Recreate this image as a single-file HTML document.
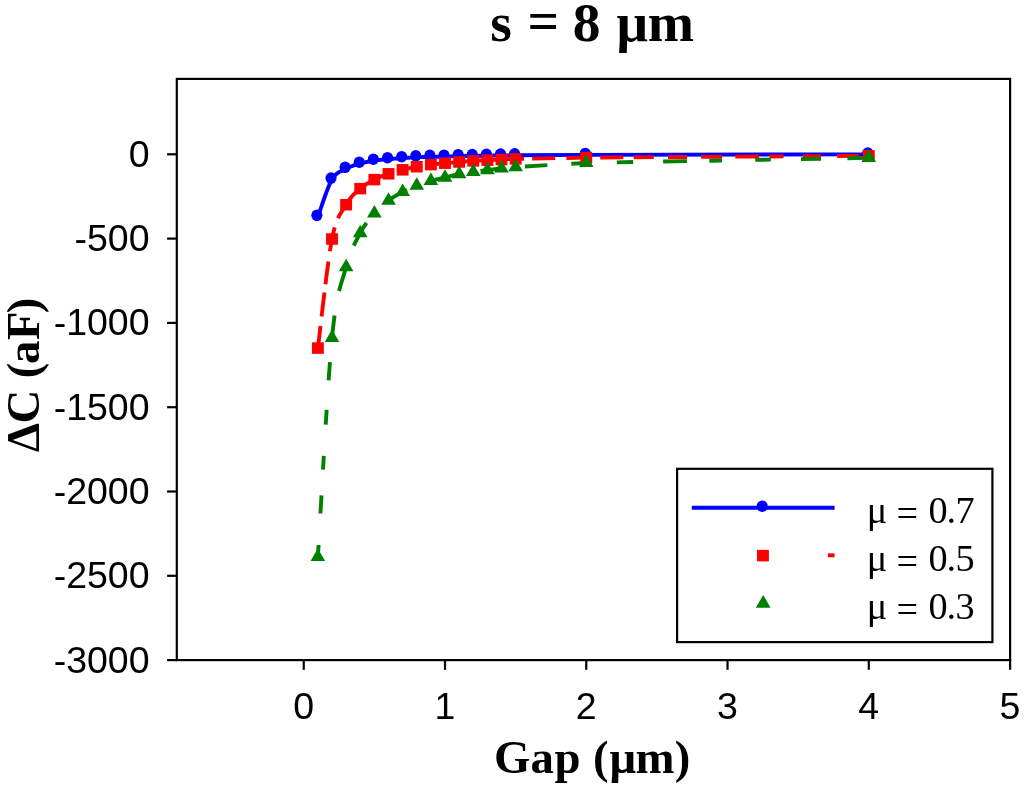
<!DOCTYPE html>
<html lang="en">
<head>
<meta charset="utf-8">
<title>s = 8 &#956;m</title>
<style>
html,body{margin:0;padding:0;background:#fff;}
body{width:1024px;height:789px;overflow:hidden;}
svg{display:block;}
.tk{font-family:"Liberation Sans",Arial,sans-serif;font-size:37.5px;fill:#000;}
.ax{font-family:"Liberation Serif","Times New Roman",serif;font-weight:bold;font-size:45.8px;fill:#000;}
.tt{font-family:"Liberation Serif","Times New Roman",serif;font-weight:bold;font-size:54.2px;fill:#000;}
.lg{font-family:"Liberation Serif","Times New Roman",serif;font-size:36px;fill:#000;}
</style>
</head>
<body>
<svg width="1024" height="789" viewBox="0 0 1024 789">
<rect width="1024" height="789" fill="#ffffff"/>
<text class="tt" style="font-size:55.5px" y="40.7" dy="0.00 0.00 -1.40 1.40 0.00 0.00 0.00 0.00" x="490.14 508.83 527.52 550.17 572.83 594.69 616.55 647.82">s = 8 &#956;m</text>
<text class="ax" style="font-size:46.8px" y="773.2" x="494.04 530.54 554.46 573.72 592.99 609.52 635.49 674.70">Gap (&#956;m)</text>
<text class="ax" style="font-size:46.8px" transform="translate(38.9 0) rotate(-90)" y="0" x="-452.17 -423.55 -400.88 -378.21 -364.11 -340.07 -313.20">&#916;C (aF)</text>
<g fill="none" stroke="#000" stroke-width="2.2" stroke-linecap="butt">
<rect x="176.80" y="78.90" width="833.30" height="581.20"/>
<line x1="303.75" y1="660.10" x2="303.75" y2="669.80"/>
<line x1="445.01" y1="660.10" x2="445.01" y2="669.80"/>
<line x1="586.27" y1="660.10" x2="586.27" y2="669.80"/>
<line x1="727.53" y1="660.10" x2="727.53" y2="669.80"/>
<line x1="868.79" y1="660.10" x2="868.79" y2="669.80"/>
<line x1="1010.10" y1="660.10" x2="1010.10" y2="669.80"/>
<line x1="176.80" y1="154.30" x2="167.10" y2="154.30"/>
<line x1="176.80" y1="238.60" x2="167.10" y2="238.60"/>
<line x1="176.80" y1="322.90" x2="167.10" y2="322.90"/>
<line x1="176.80" y1="407.20" x2="167.10" y2="407.20"/>
<line x1="176.80" y1="491.50" x2="167.10" y2="491.50"/>
<line x1="176.80" y1="575.80" x2="167.10" y2="575.80"/>
<line x1="176.80" y1="660.10" x2="167.10" y2="660.10"/>
</g>
<text class="tk" x="303.75" y="719.1" text-anchor="middle">0</text>
<text class="tk" x="445.01" y="719.1" text-anchor="middle">1</text>
<text class="tk" x="586.27" y="719.1" text-anchor="middle">2</text>
<text class="tk" x="727.53" y="719.1" text-anchor="middle">3</text>
<text class="tk" x="868.79" y="719.1" text-anchor="middle">4</text>
<text class="tk" x="1010.05" y="719.1" text-anchor="middle">5</text>
<text class="tk" x="149.6" y="166.80" text-anchor="end">0</text>
<text class="tk" x="149.6" y="251.10" text-anchor="end">-500</text>
<text class="tk" x="149.6" y="335.40" text-anchor="end">-1000</text>
<text class="tk" x="149.6" y="419.70" text-anchor="end">-1500</text>
<text class="tk" x="149.6" y="504.00" text-anchor="end">-2000</text>
<text class="tk" x="149.6" y="588.30" text-anchor="end">-2500</text>
<text class="tk" x="149.6" y="672.60" text-anchor="end">-3000</text>
<g fill="none" stroke-width="3.9" stroke-linecap="butt" stroke-linejoin="round">
<path stroke="#0000ff" d="M317.88 216.70 L318.19 215.84 L318.56 214.82 L318.97 213.65 L319.41 212.35 L319.90 210.93 L320.41 209.40 L320.96 207.78 L321.54 206.08 L322.14 204.31 L322.76 202.50 L323.40 200.65 L324.06 198.77 L324.72 196.89 L325.40 195.01 L326.08 193.15 L326.77 191.32 L327.46 189.54 L328.14 187.82 L328.82 186.17 L329.48 184.60 L330.14 183.14 L330.78 181.79 L331.40 180.58 L332.00 179.50 L332.59 178.54 L333.18 177.66 L333.77 176.85 L334.36 176.11 L334.94 175.43 L335.53 174.81 L336.12 174.25 L336.71 173.73 L337.30 173.27 L337.89 172.84 L338.48 172.45 L339.06 172.09 L339.65 171.76 L340.24 171.46 L340.83 171.17 L341.42 170.90 L342.01 170.64 L342.60 170.38 L343.19 170.12 L343.77 169.86 L344.36 169.60 L344.95 169.32 L345.54 169.02 L346.13 168.70 L346.72 168.38 L347.31 168.07 L347.89 167.78 L348.48 167.50 L349.07 167.23 L349.66 166.97 L350.25 166.73 L350.84 166.50 L351.43 166.28 L352.01 166.06 L352.60 165.86 L353.19 165.66 L353.78 165.47 L354.37 165.29 L354.96 165.11 L355.55 164.93 L356.13 164.76 L356.72 164.59 L357.31 164.43 L357.90 164.26 L358.49 164.10 L359.08 163.93 L359.67 163.77 L360.25 163.60 L360.84 163.43 L361.43 163.27 L362.02 163.11 L362.61 162.96 L363.20 162.81 L363.79 162.67 L364.37 162.53 L364.96 162.39 L365.55 162.26 L366.14 162.13 L366.73 162.00 L367.32 161.88 L367.91 161.75 L368.49 161.64 L369.08 161.52 L369.67 161.41 L370.26 161.30 L370.85 161.20 L371.44 161.09 L372.03 160.99 L372.61 160.89 L373.20 160.79 L373.79 160.69 L374.38 160.60 L374.97 160.51 L375.56 160.42 L376.15 160.34 L376.73 160.26 L377.32 160.18 L377.91 160.11 L378.50 160.04 L379.09 159.97 L379.68 159.91 L380.27 159.84 L380.85 159.78 L381.44 159.72 L382.03 159.67 L382.62 159.61 L383.21 159.56 L383.80 159.51 L384.39 159.46 L384.97 159.40 L385.56 159.35 L386.15 159.30 L386.74 159.25 L387.33 159.20 L387.92 159.15 L388.51 159.10 L389.09 159.05 L389.68 159.00 L390.27 158.95 L390.86 158.90 L391.45 158.86 L392.04 158.81 L392.63 158.77 L393.21 158.72 L393.80 158.68 L394.39 158.64 L394.98 158.60 L395.57 158.56 L396.16 158.52 L396.75 158.48 L397.33 158.44 L397.92 158.40 L398.51 158.36 L399.10 158.32 L399.69 158.29 L400.28 158.25 L400.87 158.21 L401.45 158.17 L402.04 158.14 L402.63 158.10 L403.22 158.06 L403.81 158.03 L404.40 157.99 L404.99 157.95 L405.57 157.92 L406.16 157.88 L406.75 157.84 L407.34 157.81 L407.93 157.77 L408.52 157.74 L409.11 157.70 L409.69 157.67 L410.28 157.64 L410.87 157.60 L411.46 157.57 L412.05 157.54 L412.64 157.51 L413.23 157.47 L413.82 157.44 L414.40 157.41 L414.99 157.38 L415.58 157.36 L416.17 157.33 L416.76 157.30 L417.35 157.27 L417.94 157.25 L418.52 157.22 L419.11 157.20 L419.70 157.17 L420.29 157.15 L420.88 157.12 L421.47 157.10 L422.06 157.08 L422.64 157.06 L423.23 157.03 L423.82 157.01 L424.41 156.99 L425.00 156.97 L425.59 156.95 L426.18 156.93 L426.76 156.91 L427.35 156.90 L427.94 156.88 L428.53 156.86 L429.12 156.85 L429.71 156.83 L430.30 156.81 L430.88 156.80 L431.47 156.79 L432.06 156.77 L432.65 156.76 L433.24 156.75 L433.83 156.74 L434.42 156.74 L435.00 156.73 L435.59 156.72 L436.18 156.72 L436.77 156.71 L437.36 156.71 L437.95 156.70 L438.54 156.69 L439.12 156.69 L439.71 156.68 L440.30 156.68 L440.89 156.67 L441.48 156.66 L442.07 156.66 L442.66 156.65 L443.24 156.64 L443.83 156.63 L444.42 156.61 L445.01 156.60 L445.60 156.58 L446.19 156.57 L446.78 156.55 L447.36 156.53 L447.95 156.51 L448.54 156.49 L449.13 156.47 L449.72 156.44 L450.31 156.42 L450.90 156.40 L451.48 156.37 L452.07 156.35 L452.66 156.33 L453.25 156.30 L453.84 156.28 L454.43 156.26 L455.02 156.23 L455.60 156.21 L456.19 156.19 L456.78 156.17 L457.37 156.15 L457.96 156.13 L458.55 156.12 L459.14 156.10 L459.72 156.09 L460.31 156.07 L460.90 156.06 L461.49 156.05 L462.08 156.04 L462.67 156.03 L463.26 156.02 L463.84 156.01 L464.43 156.00 L465.02 156.00 L465.61 155.99 L466.20 155.98 L466.79 155.97 L467.38 155.97 L467.96 155.96 L468.55 155.96 L469.14 155.95 L469.73 155.94 L470.32 155.94 L470.91 155.93 L471.50 155.92 L472.08 155.92 L472.67 155.91 L473.26 155.90 L473.85 155.89 L474.44 155.88 L475.03 155.88 L475.62 155.87 L476.20 155.86 L476.79 155.85 L477.38 155.84 L477.97 155.84 L478.56 155.83 L479.15 155.82 L479.74 155.81 L480.33 155.81 L480.91 155.80 L481.50 155.79 L482.09 155.78 L482.68 155.77 L483.27 155.77 L483.86 155.76 L484.45 155.75 L485.03 155.74 L485.62 155.73 L486.21 155.72 L486.80 155.71 L487.39 155.70 L487.98 155.69 L488.57 155.68 L489.15 155.67 L489.74 155.65 L490.33 155.64 L490.92 155.63 L491.51 155.61 L492.10 155.60 L492.69 155.59 L493.27 155.57 L493.86 155.56 L494.45 155.54 L495.04 155.53 L495.63 155.52 L496.22 155.50 L496.81 155.49 L497.39 155.48 L497.98 155.46 L498.57 155.45 L499.16 155.44 L499.75 155.43 L500.34 155.42 L500.93 155.41 L501.51 155.40 L502.06 155.39 L502.51 155.39 L502.89 155.38 L503.21 155.38 L503.49 155.37 L503.72 155.37 L503.93 155.37 L504.13 155.36 L504.33 155.36 L504.54 155.36 L504.77 155.36 L505.05 155.36 L505.37 155.36 L505.75 155.36 L506.20 155.35 L506.75 155.35 L507.39 155.35 L508.14 155.34 L509.01 155.34 L510.02 155.33 L511.17 155.33 L512.48 155.32 L513.97 155.31 L515.64 155.30 L586.27 154.85 L868.79 154.40"/>
<path stroke="#ff0000" d="M317.88 348.10 L318.19 345.58 L318.56 342.59 L318.97 339.17 L319.41 335.36 L319.90 331.21 L320.41 326.74 L320.49 326.10"/>
<path stroke="#ff0000" d="M321.59 316.60 L322.14 311.89 L322.76 306.59 L323.40 301.18 L324.06 295.69 L324.46 292.40"/>
<path stroke="#ff0000" d="M325.45 284.30 L326.08 279.23 L326.77 273.87 L327.46 268.63 L328.14 263.57 L328.41 261.60"/>
<path stroke="#ff0000" d="M329.91 251.30 L330.14 249.80 L330.78 245.82 L331.40 242.21 L332.00 239.00 L332.59 236.12 L333.18 233.46 L333.77 231.01 L334.36 228.74 L334.74 227.40"/>
<path stroke="#ff0000" d="M338.02 218.20 L338.48 217.21 L339.06 216.04 L339.65 214.94 L340.24 213.91 L340.83 212.94 L341.42 212.01 L342.01 211.12 L342.60 210.24 L343.19 209.37 L343.77 208.50 L344.36 207.61 L344.95 206.68 L345.54 205.72 L346.13 204.70 L346.72 203.68 L347.31 202.70 L347.89 201.77 L348.48 200.88 L349.07 200.04 L349.66 199.23 L350.25 198.46 L350.84 197.72 L351.43 197.02 L352.01 196.34 L352.60 195.69 L353.19 195.07 L353.78 194.47 L354.37 193.88 L354.96 193.32 L355.55 192.77 L356.13 192.23 L356.72 191.70 L357.31 191.18 L357.90 190.66 L358.49 190.15 L359.08 189.64 L359.67 189.12 L360.25 188.60 L360.84 188.09 L361.43 187.59 L362.02 187.11 L362.61 186.65 L363.20 186.21 L363.79 185.78 L364.37 185.36 L364.96 184.96 L365.55 184.56 L366.14 184.18 L366.73 183.82 L367.32 183.46 L367.91 183.11 L368.49 182.76 L369.08 182.43 L369.67 182.10 L370.26 181.78 L370.85 181.46 L371.44 181.14 L372.03 180.83 L372.61 180.52 L373.20 180.22 L373.79 179.91 L374.38 179.60 L374.97 179.30 L375.56 179.00 L376.15 178.71 L376.73 178.43 L377.32 178.15 L377.91 177.88 L378.50 177.62 L379.09 177.36 L379.68 177.11 L380.27 176.87 L380.85 176.62 L381.44 176.39 L382.03 176.16 L382.62 175.93 L383.21 175.70 L383.80 175.48 L384.39 175.26 L384.97 175.05 L385.56 174.84 L386.15 174.63 L386.74 174.42 L387.33 174.21 L387.92 174.00 L388.51 173.80 L389.09 173.60 L389.68 173.40 L390.27 173.21 L390.86 173.02 L391.45 172.83 L392.04 172.65 L392.63 172.47 L393.21 172.30 L393.80 172.13"/>
<path stroke="#ff0000" d="M397.00 171.24 L397.33 171.15 L397.92 171.00 L398.51 170.85 L399.10 170.69 L399.69 170.54 L400.28 170.39 L400.87 170.24 L401.45 170.10 L402.04 169.95 L402.63 169.80 L403.22 169.65 L403.81 169.51 L404.40 169.36 L404.99 169.22 L405.57 169.08 L406.16 168.94 L406.75 168.80 L407.34 168.66 L407.93 168.53 L408.52 168.39 L409.11 168.26 L409.69 168.13 L410.28 168.00 L410.87 167.88 L411.46 167.75 L412.05 167.63 L412.64 167.50 L413.23 167.38 L413.82 167.27 L414.40 167.15 L414.99 167.03 L415.58 166.92 L416.17 166.81 L416.76 166.70 L417.35 166.59 L417.94 166.49 L418.52 166.38 L419.11 166.28 L419.70 166.19 L420.29 166.09 L420.88 165.99 L421.47 165.90 L422.06 165.81 L422.20 165.79"/>
<path stroke="#ff0000" d="M425.40 165.32 L425.59 165.29 L426.18 165.21 L426.76 165.13 L427.35 165.05 L427.94 164.97 L428.53 164.90 L429.12 164.82 L429.71 164.75 L430.30 164.67 L430.88 164.60 L431.47 164.53 L432.06 164.46 L432.65 164.39 L433.24 164.32 L433.83 164.26 L434.42 164.20 L435.00 164.13 L435.59 164.07 L436.18 164.01 L436.77 163.96 L437.36 163.90 L437.95 163.84 L438.54 163.79 L439.12 163.73 L439.71 163.68 L440.30 163.63 L440.89 163.57 L441.48 163.52 L442.07 163.47 L442.66 163.41 L443.24 163.36 L443.83 163.31 L444.42 163.25 L445.01 163.20 L445.60 163.15 L446.19 163.09 L446.78 163.04 L447.36 162.99 L447.95 162.94 L448.54 162.88 L449.13 162.83 L449.72 162.78 L450.31 162.73 L450.90 162.68 L451.48 162.63 L452.07 162.58 L452.66 162.53 L453.25 162.48 L453.84 162.43 L454.43 162.39 L455.02 162.34 L455.60 162.29 L456.19 162.24 L456.78 162.19 L457.37 162.14 L457.96 162.10 L458.55 162.05 L459.14 162.00 L459.72 161.95 L460.31 161.90 L460.90 161.85 L461.49 161.81 L462.08 161.76 L462.67 161.71 L463.26 161.66 L463.84 161.61 L464.43 161.56 L465.02 161.51 L465.61 161.47 L466.20 161.42 L466.79 161.37 L467.38 161.32 L467.96 161.28 L468.55 161.23 L469.14 161.19 L469.73 161.14 L470.32 161.10 L470.91 161.06 L471.50 161.02 L472.08 160.98 L472.67 160.94 L473.26 160.90 L473.85 160.86 L474.44 160.83 L475.03 160.79 L475.62 160.76 L476.20 160.73 L476.79 160.70 L477.38 160.67 L477.97 160.64 L478.56 160.61 L479.15 160.58 L479.74 160.55 L480.33 160.52 L480.91 160.50 L481.50 160.47 L482.09 160.44 L482.68 160.42 L483.27 160.39 L483.86 160.37 L484.45 160.34 L485.03 160.31 L485.62 160.28 L486.21 160.26 L486.80 160.23 L487.39 160.20 L487.98 160.17 L488.57 160.14 L489.15 160.11 L489.74 160.08 L490.33 160.05 L490.92 160.02 L491.51 159.99 L492.10 159.96 L492.69 159.93 L493.27 159.90 L493.86 159.87 L494.45 159.84 L495.04 159.81 L495.63 159.78 L496.22 159.76 L496.81 159.73 L497.39 159.70 L497.98 159.67 L498.57 159.64 L499.16 159.61 L499.75 159.58 L500.34 159.55 L500.93 159.53 L501.51 159.50 L502.06 159.47 L502.51 159.45 L502.89 159.43 L503.21 159.40 L503.49 159.38 L503.72 159.36 L503.93 159.34 L504.13 159.32 L504.33 159.30 L504.54 159.28 L504.77 159.26 L505.05 159.24 L505.37 159.22 L505.75 159.19 L506.20 159.17 L506.75 159.15 L507.39 159.12 L508.14 159.10 L509.01 159.07 L510.02 159.04 L511.17 159.01 L512.48 158.97 L513.97 158.94 L515.64 158.90 L524.00 158.75"/>
<path stroke="#ff0000" d="M532.20 158.60 L555.20 158.17"/>
<path stroke="#ff0000" d="M566.40 157.97 L586.27 157.60 L586.40 157.60"/>
<path stroke="#ff0000" d="M600.20 157.51 L623.40 157.36"/>
<path stroke="#ff0000" d="M633.80 157.30 L653.80 157.17"/>
<path stroke="#ff0000" d="M668.00 157.08 L687.00 156.96"/>
<path stroke="#ff0000" d="M701.10 156.87 L722.10 156.73"/>
<path stroke="#ff0000" d="M735.30 156.65 L759.10 156.50"/>
<path stroke="#ff0000" d="M769.50 156.43 L783.50 156.34"/>
<path stroke="#ff0000" d="M803.00 156.22 L821.00 156.10"/>
<path stroke="#ff0000" d="M837.20 156.00 L858.50 155.87"/>
<path stroke="#008000" d="M317.88 556.80 L318.19 551.74 L318.56 545.75 L318.60 545.00"/>
<path stroke="#008000" d="M320.44 513.50 L320.96 504.51 L321.49 495.40"/>
<path stroke="#008000" d="M323.00 469.60 L323.40 462.76 L323.81 455.90"/>
<path stroke="#008000" d="M325.71 424.70 L326.08 418.76 L326.66 409.80"/>
<path stroke="#008000" d="M328.63 380.30 L328.82 377.60 L329.48 368.35 L329.95 362.20"/>
<path stroke="#008000" d="M332.00 337.90 L332.59 332.09 L333.18 326.70 L333.77 321.71 L334.36 317.10 L334.56 315.60"/>
<path stroke="#008000" d="M339.08 290.90 L339.65 288.66 L340.24 286.50 L340.83 284.45 L341.42 282.50 L342.01 280.60 L342.60 278.75 L343.19 276.91 L343.77 275.06 L344.36 273.18 L344.95 271.24 L345.54 269.22 L346.04 267.41"/>
<path stroke="#008000" d="M353.76 245.60 L353.78 245.57 L354.37 244.32 L354.96 243.11 L355.55 241.93 L356.13 240.78 L356.72 239.65 L357.31 238.53 L357.90 237.42 L358.49 236.32 L359.08 235.22 L359.67 234.11 L360.25 233.00 L360.84 231.90 L361.43 230.84 L362.02 229.81 L362.61 228.82 L363.20 227.85 L363.79 226.92 L364.37 226.02 L364.96 225.14 L365.55 224.29 L366.14 223.46 L366.50 222.97"/>
<path stroke="#008000" d="M388.50 200.60 L388.51 200.60 L389.09 200.16 L389.68 199.72 L390.27 199.30 L390.86 198.88 L391.45 198.48 L392.04 198.08 L392.63 197.69 L393.21 197.31 L393.80 196.93 L394.39 196.56 L394.98 196.20 L395.57 195.84 L396.16 195.49 L396.75 195.15 L397.33 194.81 L397.92 194.47 L398.51 194.14 L399.10 193.81 L399.69 193.49 L400.28 193.16 L400.87 192.84 L401.45 192.53 L402.04 192.21 L402.63 191.90 L403.22 191.59 L403.81 191.29 L404.40 190.99 L404.99 190.69 L405.57 190.41 L406.16 190.12 L406.75 189.84 L407.00 189.72"/>
<path stroke="#008000" d="M434.50 179.85 L435.00 179.73 L435.59 179.60 L436.18 179.46 L436.77 179.33 L437.36 179.20 L437.95 179.07 L438.54 178.94 L439.12 178.81 L439.71 178.69 L440.30 178.56 L440.89 178.43 L441.48 178.30 L442.07 178.17 L442.66 178.04 L443.24 177.91 L443.83 177.78 L444.42 177.64 L445.01 177.50 L445.60 177.36 L446.19 177.21 L446.78 177.06 L447.36 176.91 L447.95 176.76 L448.54 176.61 L449.13 176.45 L449.72 176.30 L450.31 176.14 L450.90 175.98 L451.48 175.83 L452.07 175.68 L452.66 175.52 L453.25 175.37 L453.84 175.22 L454.43 175.07 L455.02 174.92 L455.60 174.78 L456.19 174.64 L456.78 174.50 L457.37 174.37 L457.84 174.27"/>
<path stroke="#008000" d="M480.50 170.95 L480.91 170.90 L481.50 170.83 L482.09 170.75 L482.68 170.68 L483.27 170.61 L483.86 170.54 L484.45 170.46 L485.03 170.39 L485.62 170.32 L486.21 170.25 L486.80 170.17 L487.39 170.10 L487.98 170.03 L488.57 169.95 L489.15 169.88 L489.74 169.81 L490.33 169.73 L490.92 169.66 L491.51 169.59 L492.10 169.51 L492.69 169.44 L493.27 169.37 L493.86 169.30 L494.45 169.22 L495.04 169.15 L495.63 169.08 L496.22 169.01 L496.81 168.94 L497.39 168.87 L497.98 168.80 L498.57 168.73 L499.16 168.66 L499.75 168.60 L500.34 168.53 L500.93 168.47 L501.51 168.40 L502.06 168.34 L502.51 168.28 L502.89 168.23 L503.21 168.18 L503.49 168.14 L503.72 168.09 L503.93 168.05 L504.13 168.01 L504.31 167.97"/>
<path stroke="#008000" d="M525.00 166.46 L547.30 165.16"/>
<path stroke="#008000" d="M571.30 163.77 L586.27 162.90 L587.00 162.89"/>
<path stroke="#008000" d="M616.80 162.36 L633.20 162.07"/>
<path stroke="#008000" d="M663.10 161.54 L686.90 161.12"/>
<path stroke="#008000" d="M709.30 160.72 L722.00 160.50"/>
<path stroke="#008000" d="M755.20 159.91 L770.80 159.63"/>
<path stroke="#008000" d="M801.00 159.10 L821.00 158.75"/>
<path stroke="#008000" d="M847.40 158.28 L868.00 157.91"/>
</g>
<g fill="#0000ff">
<ellipse cx="316.88" cy="215.30" rx="5.6" ry="5.8"/>
<ellipse cx="331.00" cy="178.10" rx="5.6" ry="5.8"/>
<ellipse cx="345.13" cy="167.30" rx="5.6" ry="5.8"/>
<ellipse cx="359.25" cy="162.20" rx="5.6" ry="5.8"/>
<ellipse cx="373.38" cy="159.20" rx="5.6" ry="5.8"/>
<ellipse cx="387.51" cy="157.70" rx="5.6" ry="5.8"/>
<ellipse cx="401.63" cy="156.70" rx="5.6" ry="5.8"/>
<ellipse cx="415.76" cy="155.90" rx="5.6" ry="5.8"/>
<ellipse cx="429.88" cy="155.40" rx="5.6" ry="5.8"/>
<ellipse cx="444.01" cy="155.20" rx="5.6" ry="5.8"/>
<ellipse cx="458.14" cy="154.70" rx="5.6" ry="5.8"/>
<ellipse cx="472.26" cy="154.50" rx="5.6" ry="5.8"/>
<ellipse cx="486.39" cy="154.30" rx="5.6" ry="5.8"/>
<ellipse cx="500.51" cy="154.00" rx="5.6" ry="5.8"/>
<ellipse cx="514.64" cy="153.90" rx="5.6" ry="5.8"/>
<ellipse cx="585.27" cy="153.45" rx="5.6" ry="5.8"/>
<ellipse cx="867.79" cy="153.00" rx="5.6" ry="5.8"/>
</g>
<g fill="#ff0000">
<rect x="311.93" y="342.35" width="11.9" height="11.5"/>
<rect x="326.05" y="233.25" width="11.9" height="11.5"/>
<rect x="340.18" y="198.95" width="11.9" height="11.5"/>
<rect x="354.30" y="182.85" width="11.9" height="11.5"/>
<rect x="368.43" y="173.85" width="11.9" height="11.5"/>
<rect x="382.56" y="168.05" width="11.9" height="11.5"/>
<rect x="396.68" y="164.05" width="11.9" height="11.5"/>
<rect x="410.81" y="160.95" width="11.9" height="11.5"/>
<rect x="424.93" y="158.85" width="11.9" height="11.5"/>
<rect x="439.06" y="157.45" width="11.9" height="11.5"/>
<rect x="453.19" y="156.25" width="11.9" height="11.5"/>
<rect x="467.31" y="155.15" width="11.9" height="11.5"/>
<rect x="481.44" y="154.45" width="11.9" height="11.5"/>
<rect x="495.56" y="153.75" width="11.9" height="11.5"/>
<rect x="509.69" y="153.15" width="11.9" height="11.5"/>
<rect x="580.32" y="151.85" width="11.9" height="11.5"/>
<rect x="862.84" y="150.05" width="11.9" height="11.5"/>
</g>
<g fill="#008000">
<path d="M317.88 548.50 L325.18 561.00 L310.58 561.00 Z"/>
<path d="M332.00 329.60 L339.30 342.10 L324.70 342.10 Z"/>
<path d="M346.13 258.80 L353.43 271.30 L338.83 271.30 Z"/>
<path d="M360.25 224.70 L367.55 237.20 L352.95 237.20 Z"/>
<path d="M374.38 205.10 L381.68 217.60 L367.08 217.60 Z"/>
<path d="M388.51 192.30 L395.81 204.80 L381.21 204.80 Z"/>
<path d="M402.63 183.60 L409.93 196.10 L395.33 196.10 Z"/>
<path d="M416.76 177.30 L424.06 189.80 L409.46 189.80 Z"/>
<path d="M430.88 172.50 L438.18 185.00 L423.58 185.00 Z"/>
<path d="M445.01 169.20 L452.31 181.70 L437.71 181.70 Z"/>
<path d="M459.14 165.70 L466.44 178.20 L451.84 178.20 Z"/>
<path d="M473.26 163.60 L480.56 176.10 L465.96 176.10 Z"/>
<path d="M487.39 161.80 L494.69 174.30 L480.09 174.30 Z"/>
<path d="M501.51 160.10 L508.81 172.60 L494.21 172.60 Z"/>
<path d="M515.64 158.70 L522.94 171.20 L508.34 171.20 Z"/>
<path d="M586.27 154.60 L593.57 167.10 L578.97 167.10 Z"/>
<path d="M868.79 149.60 L876.09 162.10 L861.49 162.10 Z"/>
</g>
<rect x="677.1" y="468.8" width="315.3" height="173.3" fill="#fff" stroke="#000" stroke-width="2.2"/>
<line x1="691.8" y1="507.8" x2="834.6" y2="507.8" stroke="#0000ff" stroke-width="3.9"/>
<ellipse cx="762.2" cy="506.2" rx="5.6" ry="5.8" fill="#0000ff"/>
<line x1="827.9" y1="555.3" x2="834.6" y2="555.3" stroke="#ff0000" stroke-width="3.9"/>
<rect x="757.0" y="549.9" width="11.9" height="11.5" fill="#ff0000"/>
<path d="M763.2 594.9 L770.6 607.8 L755.8 607.8 Z" fill="#008000"/>
<text class="lg" style="font-size:38.3px" y="522.8" dy="0.00 0.00 3.00 -3.00 0.00 0.00 0.00" x="866.79 881.63 896.48 912.50 928.52 946.61 955.41">&#956; = 0.7</text>
<text class="lg" style="font-size:38.3px" y="570.7" dy="0.00 0.00 3.00 -3.00 0.00 0.00 0.00" x="866.79 881.63 896.48 912.50 928.52 946.61 955.41">&#956; = 0.5</text>
<text class="lg" style="font-size:38.3px" y="618.6" dy="0.00 0.00 3.00 -3.00 0.00 0.00 0.00" x="866.79 881.63 896.48 912.50 928.52 946.61 955.41">&#956; = 0.3</text>
</svg>
</body>
</html>
